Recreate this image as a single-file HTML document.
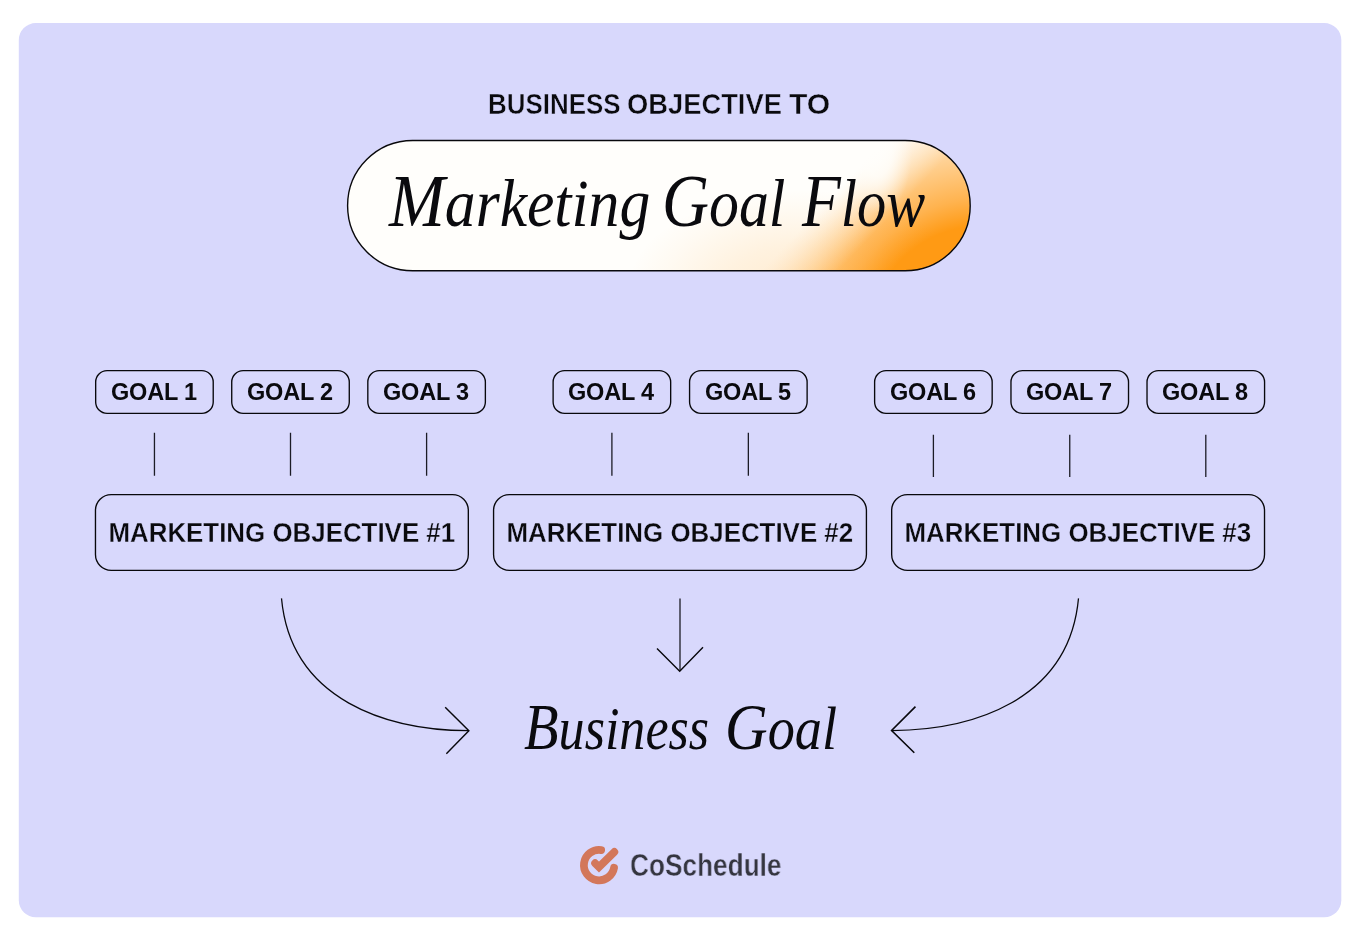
<!DOCTYPE html>
<html lang="en">
<head>
<meta charset="utf-8">
<title>Marketing Goal Flow</title>
<style>
html,body{margin:0;padding:0;background:#fff;}
body{width:1360px;height:941px;position:relative;overflow:hidden;font-family:"Liberation Sans",sans-serif;color:#0a0a0e;}
.abs{position:absolute;white-space:nowrap;}
.kick,.goal,.mo,.logo{will-change:transform;}
.w{position:absolute;top:0;white-space:nowrap;line-height:1;transform-origin:0 0;}
.ttl .w::first-letter,.bgl .w::first-letter{font-size:1.087em;}
.kick,.ttl,.bgl{position:absolute;left:0;width:1360px;height:0;}
.kick{top:89.9px;font-weight:bold;font-size:28.75px;-webkit-text-stroke:0.45px #d8d8fc;}
.ttl{top:164.7px;font-family:"Liberation Serif",serif;font-style:italic;font-size:67.16px;}
.bgl{top:693.7px;font-family:"Liberation Serif",serif;font-style:italic;font-size:60.72px;}
.pill{left:347.4px;top:140.3px;width:623px;height:130.7px;box-sizing:border-box;border-radius:65.35px;
 background:radial-gradient(ellipse 34px 62px at 531px 12px,rgba(255,254,251,.95) 0,rgba(255,254,251,.8) 40%,rgba(255,254,251,.3) 75%,rgba(255,254,251,0) 100%),radial-gradient(ellipse 175px 100px at 455px 150px,rgba(255,154,20,.2) 0,rgba(255,154,20,.12) 45%,rgba(255,154,20,.04) 80%,rgba(255,154,20,0) 100%),linear-gradient(133.6deg,#fffefb 0,#fffefb 390px,rgba(255,254,251,.55) 414px,rgba(255,254,251,0) 446px),radial-gradient(circle at 635px 199px,#ff9a14 0,#ff9a14 113px,#ffb34f 140px,#ffd7a1 190px,#ffeeda 225px,#fffefb 260px),#fffefb;}
.goal{box-sizing:border-box;width:118.9px;height:44.2px;top:369.9px;text-align:center;font-weight:bold;font-size:23.5px;line-height:44px;letter-spacing:-0.2px;padding-right:1px;}
.mo{box-sizing:border-box;width:374.2px;height:77px;top:495px;text-align:center;font-weight:bold;font-size:27px;line-height:76px;-webkit-text-stroke:0.3px #d8d8fc;}
.mo span{display:inline-block;transform:scaleX(.959);}
.logo{left:629.64px;top:850.3px;font-weight:bold;font-size:30.5px;line-height:1;color:#34353f;transform-origin:0 0;transform:scaleX(.8598);-webkit-text-stroke:0.45px #d8d8fc;}
svg.lines{position:absolute;left:0;top:0;}
</style>
</head>
<body>
<svg class="lines" width="1360" height="941" viewBox="0 0 1360 941"><rect x="18.8" y="23.1" width="1322.5" height="894.2" rx="17" fill="#d8d8fc"/></svg>
<div class="kick"><span class="w" style="left:487.7px;transform:scaleX(.9014)">BUSINESS</span> <span class="w" style="left:627.3px;transform:scaleX(.9506)">OBJECTIVE</span> <span class="w" style="left:789.35px;transform:scaleX(1.0486)">TO</span></div>
<div class="abs pill"></div>
<div class="ttl"><span class="w" style="left:388.92px;transform:scaleX(.918)">Marketing</span> <span class="w" style="left:662.44px;transform:scaleX(.891)">Goal</span> <span class="w" style="left:802.1px;transform:scaleX(.8688)">Flow</span></div>

<div class="abs goal" style="left:95.00px">GOAL 1</div>
<div class="abs goal" style="left:231.05px">GOAL 2</div>
<div class="abs goal" style="left:367.15px">GOAL 3</div>
<div class="abs goal" style="left:552.45px">GOAL 4</div>
<div class="abs goal" style="left:688.90px">GOAL 5</div>
<div class="abs goal" style="left:873.95px">GOAL 6</div>
<div class="abs goal" style="left:1010.30px">GOAL 7</div>
<div class="abs goal" style="left:1146.35px">GOAL 8</div>

<div class="abs mo" style="left:94.80px"><span>MARKETING OBJECTIVE #1</span></div>
<div class="abs mo" style="left:492.90px"><span>MARKETING OBJECTIVE #2</span></div>
<div class="abs mo" style="left:891.00px"><span>MARKETING OBJECTIVE #3</span></div>

<svg class="lines" width="1360" height="941" viewBox="0 0 1360 941" fill="none" stroke="#08080c" stroke-width="1.35">
  <rect x="347.6" y="140.5" width="622.6" height="130.3" rx="65.15" stroke-width="1.4"/>
    <rect x="95.67" y="370.57" width="117.55" height="42.85" rx="11.4"/>
  <rect x="231.73" y="370.57" width="117.55" height="42.85" rx="11.4"/>
  <rect x="367.82" y="370.57" width="117.55" height="42.85" rx="11.4"/>
  <rect x="553.12" y="370.57" width="117.55" height="42.85" rx="11.4"/>
  <rect x="689.57" y="370.57" width="117.55" height="42.85" rx="11.4"/>
  <rect x="874.62" y="370.57" width="117.55" height="42.85" rx="11.4"/>
  <rect x="1010.97" y="370.57" width="117.55" height="42.85" rx="11.4"/>
  <rect x="1147.02" y="370.57" width="117.55" height="42.85" rx="11.4"/>
  <rect x="95.47" y="494.67" width="372.85" height="75.7" rx="15.8"/>
  <rect x="493.57" y="494.67" width="372.85" height="75.7" rx="15.8"/>
  <rect x="891.67" y="494.67" width="372.85" height="75.7" rx="15.8"/>
  <path d="M154.45 432.7V475.7M290.50 432.7V475.7M426.60 432.7V475.7M611.90 432.7V475.7M748.35 432.7V475.7M933.40 434.7V477.0M1069.75 434.7V477.0M1205.80 434.7V477.0" stroke-width="1.3" stroke="#1c1c26"/>
  <path d="M680 598.4V670.6" stroke-width="1.25" stroke="#15151c"/>
  <path d="M657 648.4L679.7 671.3L703 647.2" stroke-width="1.4"/>
  <path d="M281.5 598.4C291.1 701.55 389.1 730.3 468.6 730.7" stroke-width="1.25"/>
  <path d="M445.2 707.35L468.85 730.75L446.35 753.7" stroke-width="1.45"/>
  <path d="M1078.5 598.4C1068.9 701.55 970.9 730.1 891.8 730.5" stroke-width="1.25"/>
  <path d="M915.45 706.65L891.6 730.5L914.3 752.8" stroke-width="1.6"/>
  <g stroke="#d3775a" stroke-width="7.75" stroke-linecap="round">
    <path d="M601.2 850.05A15.2 15.2 0 1 0 614.07 867.74"/>
    <path d="M595.1 863.2L599 867.1L614.35 851.9" stroke-linejoin="miter"/>
  </g>
</svg>
<div class="bgl"><span class="w" style="left:524.34px;transform:scaleX(.8577)">Business</span> <span class="w" style="left:724.92px;transform:scaleX(.8942)">Goal</span></div>
<div class="abs logo">CoSchedule</div>
</body>
</html>
